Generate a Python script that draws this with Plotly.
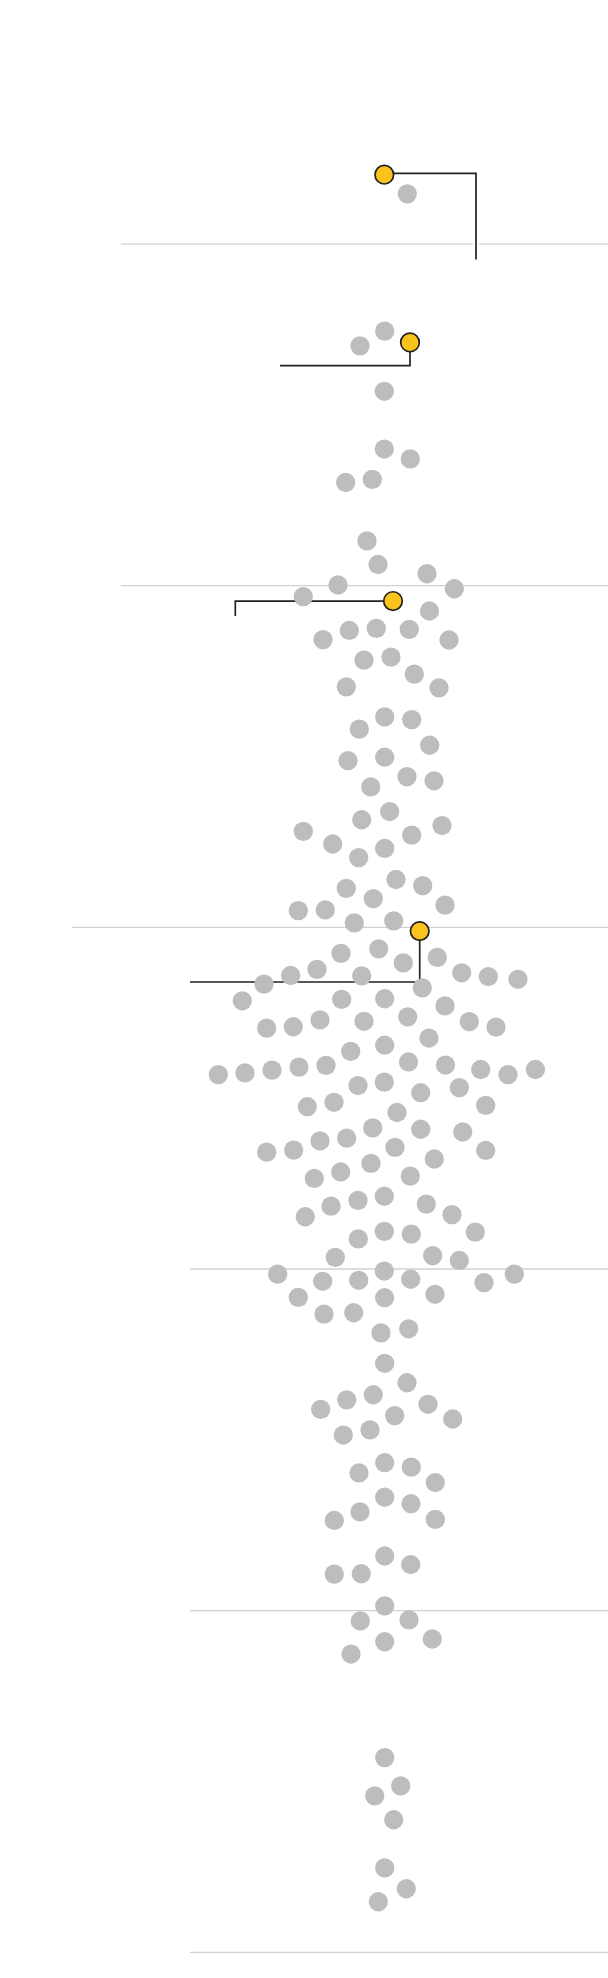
import plotly.graph_objects as go

# ---- data (value axis: gridlines at 0..50; offset = horizontal swarm offset) ----
grid_values = [0, 10, 20, 30, 40, 50]
grid_start_offsets = [-194.5, -194.5, -194.5, -312.5, -263.5, -263.5]

gray_offset = [
    22.8, 0.2, -24.5, -0.2, -0.2, 25.8, -12.2, -38.8, -17.5, -6.5,
    42.5, -46.5, 69.8, -81.2, 45.0, -61.5, -35.2, -8.2, 24.8, 64.5,
    -20.5, 6.5, 29.8, -38.2, 54.5, 0.2, 27.2, -25.2, 45.2, -36.5,
    0.2, 22.5, 49.5, -13.8, 5.2, -22.8, 57.5, -81.2, -51.8, 27.2,
    -25.8, 0.2, -38.2, 11.5, 38.2, -11.2, 60.5, -86.2, -59.2, -30.2,
    9.2, -43.5, -5.8, 18.8, 52.8, -93.8, -67.5, -22.8, 77.2, 103.8,
    133.5, -120.5, 37.8, -142.2, -42.8, 0.2, 60.5, -117.8, -91.2, -64.5,
    -20.5, 23.2, 84.8, 111.5, -33.8, 0.2, 44.5, -166.2, -139.5, -112.5,
    -85.5, -58.5, 24.0, 61.0, 96.2, 123.5, 150.9, -26.5, -0.2, 36.2,
    74.8, -77.2, -50.5, 12.5, 101.2, -11.8, 36.2, 78.2, -117.8, -90.8,
    -64.5, -37.8, 10.5, 101.2, -70.2, -43.8, -13.5, 49.8, 25.8, -79.2,
    -53.5, -26.5, -0.2, 41.8, 67.5, -26.2, -0.2, 26.8, 90.8, -49.2,
    48.2, 74.8, -106.8, -61.8, -25.8, -0.2, 26.2, 99.5, 129.8, -86.2,
    0.1, 50.5, -60.5, -30.8, -3.5, 24.2, 0.2, 22.5, -63.8, -37.8,
    -11.2, 43.5, 68.2, 10.2, -41.2, -14.5, -25.5, 0.2, 26.8, 50.8,
    0.2, 26.5, -24.5, -50.2, 50.8, 0.2, 26.2, -50.2, -23.2, 0.2,
    -24.2, 24.5, 47.8, 0.2, -33.5, 0.2, 16.2, -9.8, 9.2, 0.2,
    21.8, -6.2,
]
gray_value = [
    51.47, 47.45, 47.02, 45.69, 44.00, 43.71, 43.11, 43.02, 41.31, 40.62,
    40.35, 40.02, 39.91, 39.68, 39.26, 38.42, 38.69, 38.75, 38.72, 38.41,
    37.82, 37.91, 37.41, 37.04, 37.01, 36.16, 36.08, 35.80, 35.33, 34.88,
    34.98, 34.41, 34.29, 34.11, 33.39, 33.15, 32.98, 32.81, 32.44, 32.70,
    32.04, 32.31, 31.14, 31.40, 31.22, 30.84, 30.65, 30.49, 30.51, 30.13,
    30.19, 29.24, 29.37, 28.96, 29.12, 28.59, 28.77, 28.58, 28.67, 28.56,
    28.48, 28.34, 28.23, 27.85, 27.89, 27.91, 27.70, 27.05, 27.09, 27.29,
    27.25, 27.38, 27.24, 27.08, 26.37, 26.55, 26.76, 25.69, 25.74, 25.82,
    25.91, 25.96, 26.06, 25.97, 25.84, 25.69, 25.84, 25.37, 25.47, 25.16,
    25.31, 24.75, 24.88, 24.58, 24.79, 24.13, 24.09, 24.01, 23.42, 23.48,
    23.75, 23.83, 23.56, 23.47, 22.65, 22.84, 23.09, 23.22, 22.72, 21.53,
    21.84, 22.01, 22.13, 21.90, 21.59, 20.88, 21.10, 21.02, 21.08, 20.34,
    20.39, 20.25, 19.85, 19.64, 19.67, 19.94, 19.70, 19.60, 19.85, 19.17,
    19.16, 19.26, 18.68, 18.72, 18.13, 18.25, 17.24, 16.67, 15.89, 16.17,
    16.32, 16.04, 15.61, 15.71, 15.14, 15.29, 14.03, 14.33, 14.20, 13.75,
    13.32, 13.13, 12.89, 12.64, 12.67, 11.60, 11.35, 11.07, 11.08, 10.14,
    9.70, 9.73, 9.17, 9.09, 8.73, 5.70, 4.87, 4.58, 3.88, 2.47,
    1.86, 1.48,
]

highlight_offset = [-0.2, 25.5, 8.5, 35.2]
highlight_value = [52.03, 47.12, 39.55, 29.89]

# callout elbows: start (at highlighted dot), knee, end
callouts = [
    [(-0.2, 52.07), (91.5, 52.07), (91.5, 49.55)],
    [(25.5, 47.12), (25.5, 46.44), (-104.5, 46.44)],
    [(8.5, 39.55), (-149.2, 39.55), (-149.2, 39.11)],
    [(35.2, 29.89), (35.2, 28.40), (-194.5, 28.40)],
]

# ---- figure ----
fig = go.Figure()

fig.add_trace(go.Scatter(
    x=gray_offset, y=gray_value, mode="markers",
    marker=dict(size=19.3, color="#bdbdbd", line=dict(width=0)),
    hoverinfo="skip", showlegend=False,
))
fig.add_trace(go.Scatter(
    x=highlight_offset, y=highlight_value, mode="markers",
    marker=dict(size=18.6, color="#fbc41c", line=dict(width=1.7, color="#1f1f1f")),
    hoverinfo="skip", showlegend=False,
))

shapes = []
for gv, gs in zip(grid_values, grid_start_offsets):
    shapes.append(dict(type="line", xref="x", yref="y", x0=gs, x1=300, y0=gv, y1=gv,
                       line=dict(color="#d2d2d2", width=1.3), layer="below"))

for c in callouts:
    path = "M {} {} L {} {} L {} {}".format(c[0][0], c[0][1], c[1][0], c[1][1], c[2][0], c[2][1])
    shapes.append(dict(type="path", xref="x", yref="y", path=path,
                       line=dict(color="#ffffff", width=6), layer="between"))
for c in callouts:
    path = "M {} {} L {} {} L {} {}".format(c[0][0], c[0][1], c[1][0], c[1][1], c[2][0], c[2][1])
    shapes.append(dict(type="path", xref="x", yref="y", path=path,
                       line=dict(color="#222222", width=1.7), layer="between"))

fig.update_layout(
    width=608, height=1978,
    margin=dict(l=0, r=0, t=0, b=0),
    paper_bgcolor="#ffffff", plot_bgcolor="#ffffff",
    xaxis=dict(range=[-384.5, 223.5], visible=False, showgrid=False, zeroline=False, fixedrange=True),
    yaxis=dict(range=[-0.752, 57.143], visible=False, showgrid=False, zeroline=False, fixedrange=True),
    shapes=shapes,
)

fig.write_html(
    "out.html",
    config={"displayModeBar": False},
    post_script="document.body.style.margin='0';document.documentElement.style.overflow='hidden';",
)
